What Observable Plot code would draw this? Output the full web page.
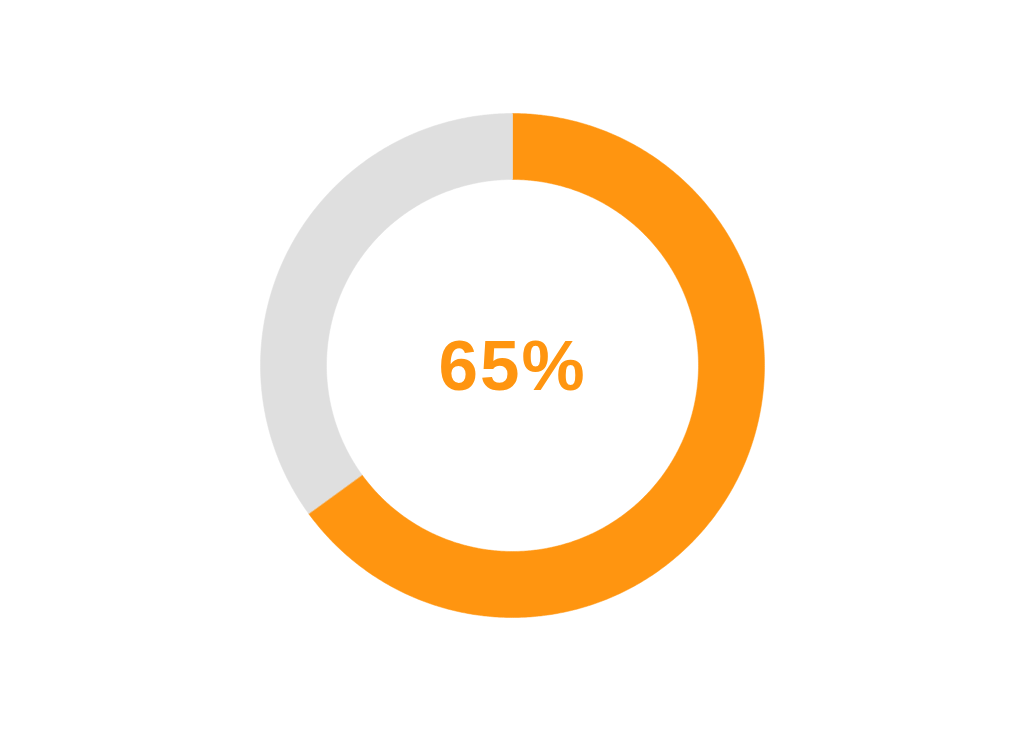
<!DOCTYPE html>
<html>
<head>
<meta charset="utf-8">
<script src="https://cdn.jsdelivr.net/npm/d3@7"></script>
<script src="https://cdn.jsdelivr.net/npm/@observablehq/plot@0.6"></script>
<style>
  html, body { margin: 0; padding: 0; background: #fff; }
  #chart { width: 1024px; height: 731px; }
  .pct text { letter-spacing: 2px; }
</style>
</head>
<body>
<div id="chart"></div>
<script>
// Data
const categories = ["Complete", "Remaining"];
const values = [65, 35];
const sliceColors = ["#ff9510", "#dfdfdf"];
const centerLabel = "65%";

// Build donut slice polygons from values (unit circle coords)
const innerRatio = 186 / 252;
const total = d3.sum(values);
const pts = [];
let start = 0;
values.forEach((v, i) => {
  const a0 = start / total * 2 * Math.PI;
  const a1 = (start + v) / total * 2 * Math.PI;
  const n = Math.max(2, Math.ceil((a1 - a0) / (Math.PI / 360)));
  for (let k = 0; k <= n; k++) {
    const a = a0 + (a1 - a0) * k / n;
    pts.push({cat: categories[i], x: Math.sin(a), y: Math.cos(a)});
  }
  for (let k = n; k >= 0; k--) {
    const a = a0 + (a1 - a0) * k / n;
    pts.push({cat: categories[i], x: innerRatio * Math.sin(a), y: innerRatio * Math.cos(a)});
  }
  start += v;
});

const chart = Plot.plot({
  width: 1024,
  height: 731,
  margin: 0,
  x: {domain: [-1, 1], range: [260, 764], axis: null},
  y: {domain: [-1, 1], range: [617, 113], axis: null},
  color: {domain: categories, range: sliceColors},
  style: {background: "#fff"},
  marks: [
    Plot.line(pts, {x: "x", y: "y", z: "cat", fill: "cat", stroke: "cat", strokeWidth: 0.5, curve: "linear-closed"}),
    Plot.text([centerLabel], {
      x: () => 0, y: () => 0, text: d => d,
      fill: sliceColors[0], fontSize: 71, fontWeight: "bold",
      fontFamily: "Liberation Sans, Arial, sans-serif",
      textAnchor: "middle", dy: 2, className: "pct"
    })
  ]
});
document.getElementById("chart").appendChild(chart);
</script>
</body>
</html>
